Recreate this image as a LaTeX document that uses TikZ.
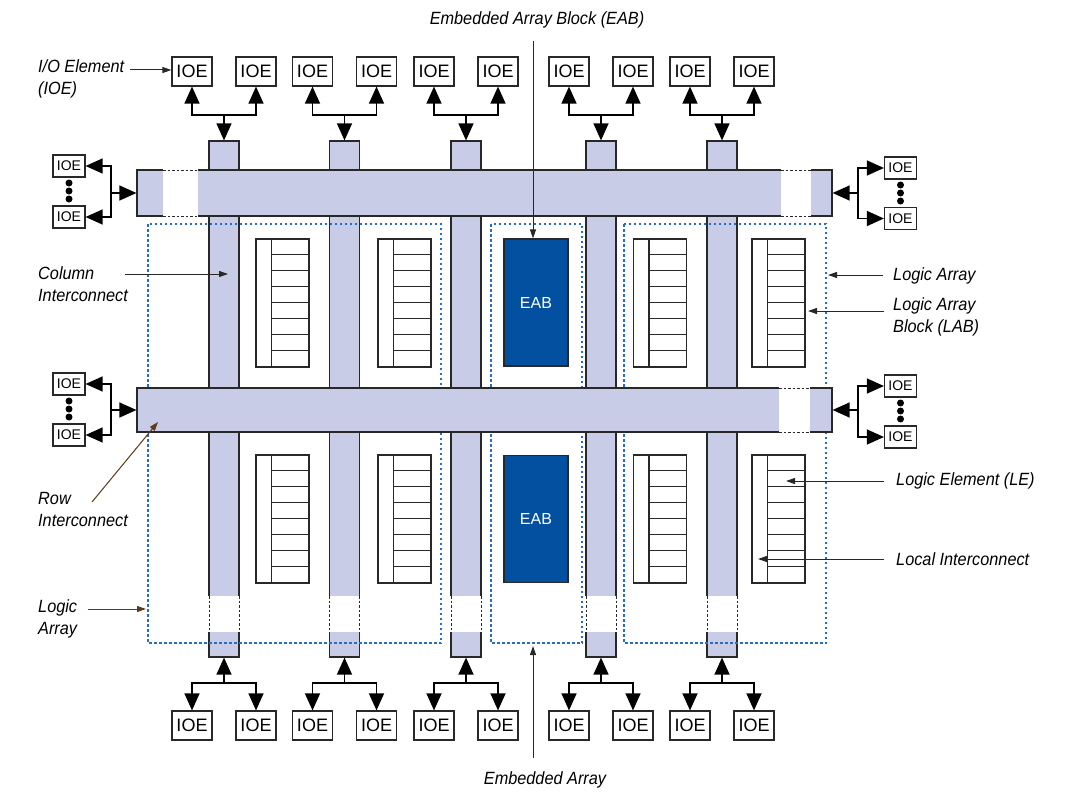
\documentclass[tikz,border=0pt]{standalone}
\usepackage{fontspec}
\usepackage{xcolor}
\usepackage{tikz}
\usetikzlibrary{arrows.meta, positioning, calc}
\newfontfamily\boxfont{Liberation Sans}
\newfontfamily\lblfont{Liberation Sans}[FakeStretch=0.92]
\definecolor{busfill}{RGB}{200,204,230}
\definecolor{eabblue}{RGB}{4,80,160}
\definecolor{arrayblue}{RGB}{40,110,190}
\definecolor{lblbrown}{RGB}{90,60,25}
\definecolor{edge}{RGB}{40,40,40}

\begin{document}
\begin{tikzpicture}[x=1pt, y=-1pt]
        \tikzstyle{ioe} = [rectangle, draw=edge, line width=1.2pt, fill=white, minimum width=40pt, minimum height=29pt, inner sep=0pt, font=\boxfont\fontsize{18}{20}\selectfont]
        \tikzstyle{ioesmall} = [ioe, minimum width=32pt, minimum height=22pt, font=\boxfont\fontsize{14}{16}\selectfont]
        \tikzstyle{colbar} = [rectangle, draw=edge, line width=1.2pt, fill=busfill, minimum width=30pt, minimum height=516pt, inner sep=0pt]
        \tikzstyle{rowbar} = [rectangle, draw=edge, line width=1.2pt, fill=busfill, minimum width=695pt, inner sep=0pt]
        \tikzstyle{labbox} = [rectangle, draw=edge, line width=1.2pt, fill=white, minimum width=53pt, minimum height=128pt, inner sep=0pt]
        \tikzstyle{eab} = [rectangle, draw=edge, line width=1.2pt, fill=eabblue, minimum width=64pt, minimum height=127pt, text=white, font=\boxfont\fontsize{16}{18}\selectfont]
        \tikzstyle{arraybox} = [draw=arrayblue, line width=1.3pt, dash pattern=on 2.5pt off 2.5pt]
        \tikzstyle{gapline} = [draw=edge, line width=1pt, dash pattern=on 2.5pt off 2pt]
        \tikzstyle{bigarrow} = [-{Triangle[width=15pt,length=17pt]}, line width=1.3pt, draw=black]
        \tikzstyle{lblarrow} = [-{Triangle[width=6pt,length=9pt]}, line width=1pt, draw=edge]
        \tikzstyle{lbl} = [font=\lblfont\itshape\fontsize{17.7}{22}\selectfont, align=left, anchor=west, inner sep=0pt]

        \useasboundingbox (0,0) rectangle (1087,800);

        % Column interconnect
        \foreach \i/\cx in {1/224, 2/344.5, 3/466, 4/601, 5/722} {
            \node (col\i) [colbar] at (\cx,399) {};
            \fill[white] (\cx-16,596) rectangle (\cx+16,632);
            \draw[gapline] (\cx-15,596) -- (\cx-15,632) (\cx+15,596) -- (\cx+15,632);
        }

        % Logic array / embedded array outlines
        \draw[arraybox] (148,224) rectangle (441,643);
        \draw[arraybox] (491,224) rectangle (582,643);
        \draw[arraybox] (624,224) rectangle (826,643);

        % Logic array blocks
        \foreach \n/\x/\y in {labA/282.5/303, labB/404.5/303, labC/660/303, labD/778.5/303,
                              labE/282.5/519, labF/404.5/519, labG/660/519, labH/778.5/519} {
            \node (\n) [labbox] at (\x,\y) {};
            \draw[line width=1.2pt, edge] ([xshift=16pt]\n.north west) -- ([xshift=16pt]\n.south west);
            \foreach \k in {1,...,7}
                \draw[line width=1.2pt, edge] ([xshift=16pt, yshift=-\k*16pt]\n.north west) -- ([yshift=-\k*16pt]\n.north east);
        }

        % Embedded array blocks
        \node (eab1) [eab] at (536,302.5) {EAB};
        \node (eab2) [eab] at (536,519) {EAB};

        % Row interconnect
        \node (row1) [rowbar, minimum height=46pt] at (484.5,193) {};
        \node (row2) [rowbar, minimum height=44pt] at (484.5,410) {};
        \fill[white] (163,168) rectangle (198,218);
        \draw[gapline] (163,170) -- (198,170) (163,216) -- (198,216);
        \fill[white] (781,168) rectangle (811,218);
        \draw[gapline] (781,170) -- (811,170) (781,216) -- (811,216);
        \fill[white] (779,386) rectangle (810,434);
        \draw[gapline] (779,388) -- (810,388) (779,432) -- (810,432);

        % Top and bottom IOEs
        \foreach \i/\cx in {1/224, 2/344.5, 3/466, 4/601, 5/722} {
            \node (ioeTa\i) [ioe] at (\cx-32,71.5) {IOE};
            \node (ioeTb\i) [ioe] at (\cx+32,71.5) {IOE};
            \node (ioeBa\i) [ioe] at (\cx-32,725.5) {IOE};
            \node (ioeBb\i) [ioe] at (\cx+32,725.5) {IOE};
            \coordinate (jT\i) at (\cx,115);
            \coordinate (jB\i) at (\cx,683);
            \draw[bigarrow] (jT\i) -- (col\i.north);
            \draw[bigarrow] (jT\i) -| (ioeTa\i.south);
            \draw[bigarrow] (jT\i) -| (ioeTb\i.south);
            \draw[bigarrow] (jB\i) -- (col\i.south);
            \draw[bigarrow] (jB\i) -| (ioeBa\i.north);
            \draw[bigarrow] (jB\i) -| (ioeBb\i.north);
        }

        % Left and right IOEs
        \node (ioeL1a) [ioesmall] at (69,166) {IOE};
        \node (ioeL1b) [ioesmall] at (69,217) {IOE};
        \node (ioeL2a) [ioesmall] at (69,384) {IOE};
        \node (ioeL2b) [ioesmall] at (69,435) {IOE};
        \node (ioeR1a) [ioesmall] at (900.5,168) {IOE};
        \node (ioeR1b) [ioesmall] at (900.5,218.5) {IOE};
        \node (ioeR2a) [ioesmall] at (900.5,386) {IOE};
        \node (ioeR2b) [ioesmall] at (900.5,437) {IOE};
        \foreach \y in {183,191,199,401,409,417} \fill (69,\y) circle (3.5);
        \foreach \y in {185,193,201,403,411,419} \fill (900.5,\y) circle (3.5);

        \coordinate (jL1) at (111,193);
        \coordinate (jL2) at (111,410);
        \coordinate (jR1) at (858,193);
        \coordinate (jR2) at (858,410);
        \draw[bigarrow] (jL1) -- (row1.west);
        \draw[bigarrow] (jL1) |- (ioeL1a.east);
        \draw[bigarrow] (jL1) |- (ioeL1b.east);
        \draw[bigarrow] (jL2) -- (row2.west);
        \draw[bigarrow] (jL2) |- (ioeL2a.east);
        \draw[bigarrow] (jL2) |- (ioeL2b.east);
        \draw[bigarrow] (jR1) -- (row1.east);
        \draw[bigarrow] (jR1) |- (ioeR1a.west);
        \draw[bigarrow] (jR1) |- (ioeR1b.west);
        \draw[bigarrow] (jR2) -- (row2.east);
        \draw[bigarrow] (jR2) |- (ioeR2a.west);
        \draw[bigarrow] (jR2) |- (ioeR2b.west);

        % Labels
        \node (lblIOE) [lbl] at (38,79) {I/O Element\\(IOE)};
        \node (lblEAB) [lbl, anchor=center] at (537,20) {Embedded Array Block (EAB)};
        \node (lblCol) [lbl] at (38,284) {Column\\Interconnect};
        \node (lblRow) [lbl] at (38,509) {Row\\Interconnect};
        \node (lblLA1) [lbl] at (38,619) {Logic\\Array};
        \node (lblEA) [lbl, anchor=center] at (545,780) {Embedded Array};
        \node (lblLA2) [lbl] at (893,276) {Logic Array};
        \node (lblLAB) [lbl] at (893,317) {Logic Array\\Block (LAB)};
        \node (lblLE) [lbl] at (896,481) {Logic Element (LE)};
        \node (lblLI) [lbl] at (896,559) {Local Interconnect};

        % Label arrows
        \coordinate (aIOE) at (130,70);
        \coordinate (aEAB) at (533,41);
        \coordinate (aCol) at (125,274);
        \coordinate (aColE) at (228,274);
        \coordinate (aRow) at (92,502);
        \coordinate (aRowE) at (158,422);
        \coordinate (aLA1) at (88,609);
        \coordinate (aLA1E) at (146,609);
        \coordinate (aEA) at (533,758);
        \coordinate (aEAE) at (533,646);
        \coordinate (aLA2) at (883,275);
        \coordinate (aLA2E) at (828,275);
        \coordinate (aLAB) at (884,311);
        \coordinate (aLABE) at (808,311);
        \coordinate (aLE) at (884,481);
        \coordinate (aLEE) at (786,481);
        \coordinate (aLI) at (884,559);
        \coordinate (aLIE) at (758,559);
        \draw[lblarrow] (aIOE) -- (aIOE -| ioeTa1.west);
        \draw[lblarrow] (aEAB) -- (aEAB |- eab1.north);
        \draw[lblarrow] (aCol) -- (aColE);
        \draw[lblarrow, draw=lblbrown, fill=lblbrown] (aRow) -- (aRowE);
        \draw[lblarrow, draw=lblbrown, fill=lblbrown] (aLA1) -- (aLA1E);
        \draw[lblarrow] (aEA) -- (aEAE);
        \draw[lblarrow] (aLA2) -- (aLA2E);
        \draw[lblarrow] (aLAB) -- (aLABE);
        \draw[lblarrow] (aLE) -- (aLEE);
        \draw[lblarrow] (aLI) -- (aLIE);
    \end{tikzpicture}
\end{document}
